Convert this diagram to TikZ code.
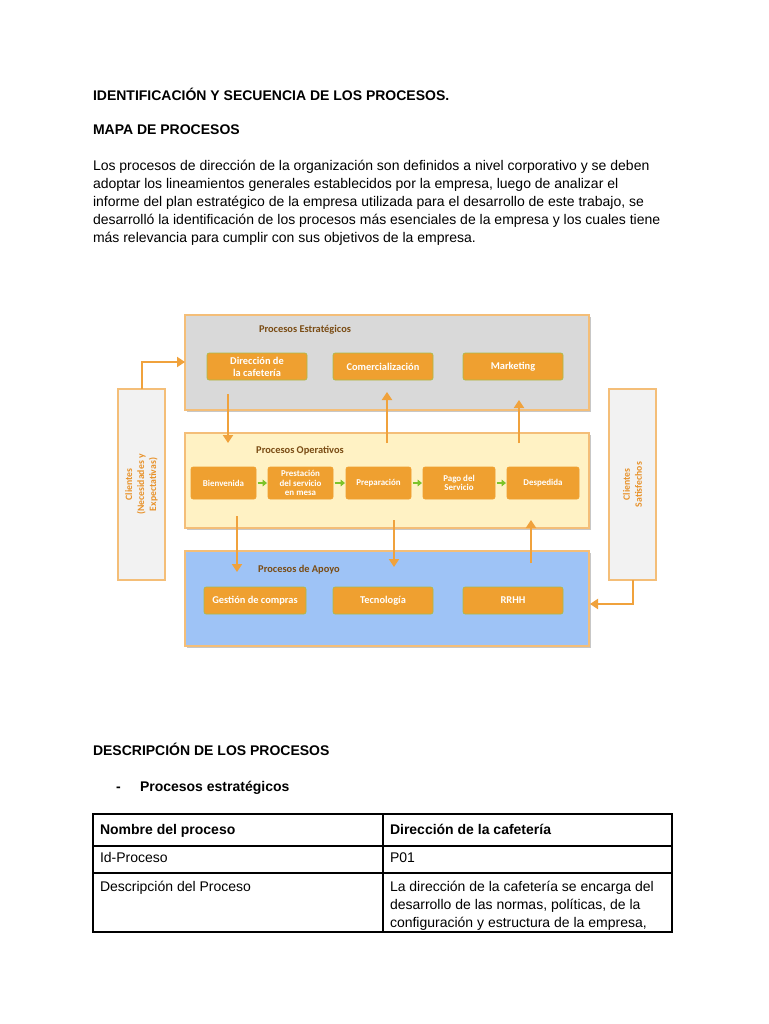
\documentclass[tikz,border=0pt]{standalone}
\usepackage{fontspec}
\setmainfont{Liberation Sans}
\newfontfamily\diagfont{Carlito}
\usetikzlibrary{arrows.meta,shadows}
\definecolor{boxorange}{HTML}{EFA030}
\definecolor{boxedge}{HTML}{A9BC4C}
\definecolor{frameedge}{HTML}{F4BE78}
\definecolor{graybg}{HTML}{D9D9D9}
\definecolor{yellowbg}{HTML}{FFF2C4}
\definecolor{bluebg}{HTML}{9EC3F6}
\definecolor{clientbg}{HTML}{F2F2F2}
\definecolor{clienttxt}{HTML}{E8922A}
\definecolor{headtxt}{HTML}{7A4C14}
\definecolor{arroworange}{HTML}{F0A23C}
\definecolor{arrowgreen}{HTML}{7DC42A}
\begin{document}
\begin{tikzpicture}[x=0.75pt,y=-0.75pt,
  sz/.style 2 args={minimum width=#1*0.75pt, minimum height=#2*0.75pt},
  body/.style={anchor=base west, inner sep=0pt, outer sep=0pt, font=\fontsize{10.5}{13.5}\selectfont},
  bodyb/.style={body, font=\fontsize{10.5}{13.5}\selectfont\bfseries},
  frame/.style={draw=frameedge, line width=1.1pt, anchor=north west, inner sep=0pt, outer sep=0pt,
     drop shadow={shadow xshift=1.3pt, shadow yshift=-1.3pt, fill=black, opacity=0.22}},
  clibox/.style={draw=frameedge, line width=0.9pt, fill=clientbg, anchor=north west, inner sep=0pt, outer sep=0pt},
  clitext/.style={rotate=90, align=center, text=clienttxt, inner sep=0pt,
     font=\diagfont\bfseries\fontsize{7.3}{9}\selectfont},
  head/.style={text=headtxt, inner sep=0pt, font=\diagfont\bfseries\fontsize{7.8}{9}\selectfont},
  pbox/.style={draw=boxedge, line width=0.5pt, fill=boxorange, rounded corners=1.6pt, text=white,
     align=center, inner sep=0pt, outer sep=0pt, font=\diagfont\bfseries\fontsize{7.8}{9}\selectfont},
  obox/.style={pbox, font=\diagfont\bfseries\fontsize{6.7}{7.3}\selectfont, draw=boxorange},
  oarrow/.style={draw=arroworange, line width=1.5pt, -{Triangle[length=6pt,width=7.5pt]}},
  garrow/.style={draw=arrowgreen, line width=1.6pt, -{Triangle[length=3.2pt,width=5pt]}, shorten <=1.2pt, shorten >=0.8pt},
  tline/.style={draw=black, line width=0.8pt}
]
\useasboundingbox[fill=white] (0,0) rectangle (768,1024);

% ---------- upper text ----------
\node[bodyb] (title) at (93,100) {IDENTIFICACIÓN Y SECUENCIA DE LOS PROCESOS.};
\node[bodyb] (mapa) at (93,134) {MAPA DE PROCESOS};
\node[body] (p1) at (93,170) {Los procesos de dirección de la organización son definidos a nivel corporativo y se deben};
\node[body] (p2) at (93,188) {adoptar los lineamientos generales establecidos por la empresa, luego de analizar el};
\node[body] (p3) at (93,206) {informe del plan estratégico de la empresa utilizada para el desarrollo de este trabajo, se};
\node[body] (p4) at (93,224) {desarrolló la identificación de los procesos más esenciales de la empresa y los cuales tiene};
\node[body] (p5) at (93,242) {más relevancia para cumplir con sus objetivos de la empresa.};

% ---------- diagram frames ----------
\node[frame, fill=graybg, sz={404}{95}] (strat) at (185,315) {};
\node[frame, fill=yellowbg, sz={404}{95}] (oper) at (185,433) {};
\node[frame, fill=bluebg, sz={404}{95}] (apoyo) at (185,551) {};
\node[clibox, sz={47}{191}] (cliL) at (118,389) {};
\node[clibox, sz={47}{191}] (cliR) at (609,389) {};
\node[clitext] (cliLt) at (cliL.center) {Clientes\\(Necesidades y\\Expectativas)};
\node[clitext] (cliRt) at (cliR.center) {Clientes\\Satisfechos};

% headings
\node[head] (hs) at (305,330) {Procesos Estratégicos};
\node[head] (ho) at (300,451) {Procesos Operativos};
\node[head] (ha) at (299,570) {Procesos de Apoyo};

% strategic boxes
\node[pbox, sz={100}{27}] (dir) at (257,366.5) {Dirección de\\la cafetería};
\node[pbox, sz={100}{27}] (com) at (383,366.5) {Comercialización};
\node[pbox, sz={100}{27}] (mkt) at (513,366.5) {Marketing};

% operative boxes
\node[obox, sz={65}{32}] (bien) at (223.5,483) {Bienvenida};
\node[obox, sz={65}{32}] (pres) at (300.5,483) {Prestación\\del servicio\\en mesa};
\node[obox, sz={65}{32}] (prep) at (378.5,483) {Preparación};
\node[obox, sz={72}{32}] (pago) at (459,483) {Pago del\\Servicio};
\node[obox, sz={72}{32}] (desp) at (543,483) {Despedida};

% support boxes
\node[pbox, sz={102}{27}] (gest) at (255,600.5) {Gestión de compras};
\node[pbox, sz={100}{27}] (tec) at (383,600.5) {Tecnología};
\node[pbox, sz={100}{27}] (rrhh) at (513,600.5) {RRHH};

% green flow arrows
\draw[garrow] (bien) -- (pres);
\draw[garrow] (pres) -- (prep);
\draw[garrow] (prep) -- (pago);
\draw[garrow] (pago) -- (desp);

% orange arrows
\coordinate (sIn) at (185,362);
\coordinate (d1a) at (228,394);  \coordinate (d1b) at (228,443);
\coordinate (u1a) at (387,443);  \coordinate (u1b) at (387,392);
\coordinate (u2a) at (519,443);  \coordinate (u2b) at (519,400);
\coordinate (d2a) at (237,516);  \coordinate (d2b) at (237,572);
\coordinate (d3a) at (394,520);  \coordinate (d3b) at (394,567);
\coordinate (u3a) at (531,563);  \coordinate (u3b) at (531,520);
\coordinate (aIn) at (590,604);
\draw[oarrow] (cliL.north) |- (sIn);
\draw[oarrow] (d1a) -- (d1b);
\draw[oarrow] (u1a) -- (u1b);
\draw[oarrow] (u2a) -- (u2b);
\draw[oarrow] (d2a) -- (d2b);
\draw[oarrow] (d3a) -- (d3b);
\draw[oarrow] (u3a) -- (u3b);
\draw[oarrow] (cliR.south) |- (aIn);

% ---------- lower text ----------
\node[bodyb] (desc) at (93,755) {DESCRIPCIÓN DE LOS PROCESOS};
\node[bodyb] (bul) at (116,791) {-};
\node[bodyb] (pe) at (140,791) {Procesos estratégicos};

% table
\draw[tline] (93,814) rectangle (672,932);
\draw[tline] (93,846) -- (672,846);
\draw[tline] (93,873) -- (672,873);
\draw[tline, line width=1.3pt] (383,814) -- (383,932);
\node[bodyb] (c11) at (100,834) {Nombre del proceso};
\node[bodyb] (c12) at (390,834) {Dirección de la cafetería};
\node[body] (c21) at (100,862) {Id-Proceso};
\node[body] (c22) at (390,862) {P01};
\node[body] (c31) at (100,891) {Descripción del Proceso};
\node[body] (c32a) at (390,891) {La dirección de la cafetería se encarga del};
\node[body] (c32b) at (390,909) {desarrollo de las normas, políticas, de la};
\node[body] (c32c) at (390,927) {configuración y estructura de la empresa,};
\end{tikzpicture}
\end{document}
